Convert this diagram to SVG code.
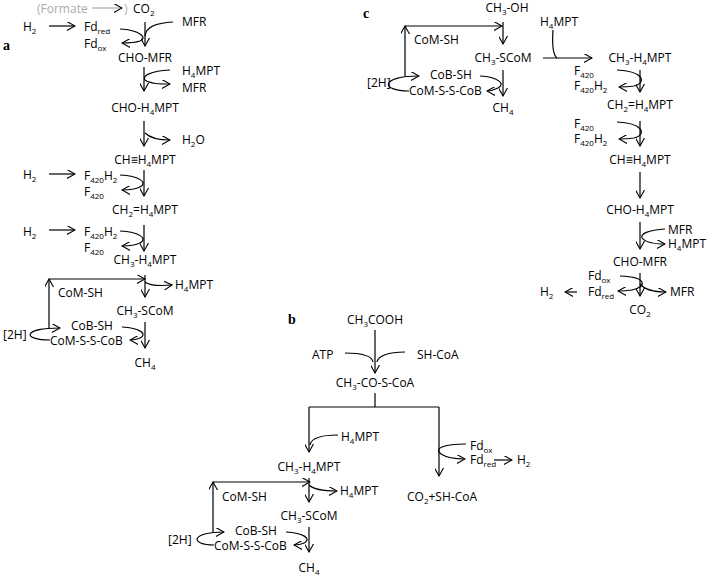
<svg xmlns="http://www.w3.org/2000/svg" width="710" height="577" viewBox="0 0 710 577">
<defs>
<marker id="ah" viewBox="0 0 10 10" refX="9" refY="5" markerWidth="9" markerHeight="9" markerUnits="userSpaceOnUse" orient="auto"><path d="M0,0 L9,5 L0,10" fill="none" stroke="#000" stroke-width="1.3"/></marker>
<marker id="ahg" viewBox="0 0 10 10" refX="9" refY="5" markerWidth="9" markerHeight="9" markerUnits="userSpaceOnUse" orient="auto"><path d="M0,0 L9,5 L0,10" fill="none" stroke="#aaa" stroke-width="1.3"/></marker>
</defs>
<style>
text{font-family:"Open Sans","Liberation Sans",sans-serif;font-size:12px;fill:#000}
.c{text-anchor:middle}
.lbl{font-family:"Liberation Serif",serif;font-weight:bold;font-size:14px}
.s{font-size:8px}
.g{fill:#aaa}
path,line{fill:none;stroke:#000;stroke-width:1.2}
.a{marker-end:url(#ah)}
</style>
<rect width="710" height="577" fill="#fff"/>

<g id="panel-a">
<text class="lbl" x="3" y="50">a</text>
<g id="a-formate"><text class="g" x="37" y="13">(Formate</text><text class="g" x="124" y="13">)</text></g>
<text x="133" y="13">CO<tspan class="s" dy="3">2</tspan></text>
<text x="23" y="31">H<tspan class="s" dy="3">2</tspan></text>
<text x="84" y="31">Fd<tspan class="s" dy="3">red</tspan></text>
<text x="84" y="48">Fd<tspan class="s" dy="3">ox</tspan></text>
<text x="182" y="26">MFR</text>
<text class="c" x="145" y="62">CHO-MFR</text>
<text x="182" y="75">H<tspan class="s" dy="3">4</tspan><tspan dy="-3">MPT</tspan></text>
<text x="182" y="92">MFR</text>
<text class="c" x="145" y="112">CHO-H<tspan class="s" dy="3">4</tspan><tspan dy="-3">MPT</tspan></text>
<text x="182" y="144">H<tspan class="s" dy="3">2</tspan><tspan dy="-3">O</tspan></text>
<text class="c" x="145" y="164">CH≡H<tspan class="s" dy="3">4</tspan><tspan dy="-3">MPT</tspan></text>
<text x="23" y="179">H<tspan class="s" dy="3">2</tspan></text>
<text x="84" y="180">F<tspan class="s" dy="3">420</tspan><tspan dy="-3">H</tspan><tspan class="s" dy="3">2</tspan></text>
<text x="84" y="196">F<tspan class="s" dy="3">420</tspan></text>
<text class="c" x="145" y="214">CH<tspan class="s" dy="3">2</tspan><tspan dy="-3">=H</tspan><tspan class="s" dy="3">4</tspan><tspan dy="-3">MPT</tspan></text>
<text x="23" y="236">H<tspan class="s" dy="3">2</tspan></text>
<text x="84" y="236">F<tspan class="s" dy="3">420</tspan><tspan dy="-3">H</tspan><tspan class="s" dy="3">2</tspan></text>
<text x="84" y="252">F<tspan class="s" dy="3">420</tspan></text>
<text class="c" x="145" y="264">CH<tspan class="s" dy="3">3</tspan><tspan dy="-3">-H</tspan><tspan class="s" dy="3">4</tspan><tspan dy="-3">MPT</tspan></text>
<text x="58" y="297">CoM-SH</text>
<text x="175" y="289">H<tspan class="s" dy="3">4</tspan><tspan dy="-3">MPT</tspan></text>
<text class="c" x="145" y="315">CH<tspan class="s" dy="3">3</tspan><tspan dy="-3">-SCoM</tspan></text>
<text x="71" y="330">CoB-SH</text>
<text x="50" y="345">CoM-S-S-CoB</text>
<text x="3" y="339">[2H]</text>
<text class="c" x="145" y="367">CH<tspan class="s" dy="3">4</tspan></text>
</g>

<g id="panel-c">
<text class="lbl" x="363" y="18">c</text>
<text class="c" x="507" y="12">CH<tspan class="s" dy="3">3</tspan><tspan dy="-3">-OH</tspan></text>
<text x="414" y="44">CoM-SH</text>
<text class="c" x="503" y="62">CH<tspan class="s" dy="3">3</tspan><tspan dy="-3">-SCoM</tspan></text>
<text x="540" y="26">H<tspan class="s" dy="3">4</tspan><tspan dy="-3">MPT</tspan></text>
<text class="c" x="640" y="62">CH<tspan class="s" dy="3">3</tspan><tspan dy="-3">-H</tspan><tspan class="s" dy="3">4</tspan><tspan dy="-3">MPT</tspan></text>
<text x="430" y="79">CoB-SH</text>
<text x="409" y="95">CoM-S-S-CoB</text>
<text x="367" y="87">[2H]</text>
<text class="c" x="503" y="112">CH<tspan class="s" dy="3">4</tspan></text>
<text x="574" y="75">F<tspan class="s" dy="3">420</tspan></text>
<text x="574" y="90">F<tspan class="s" dy="3">420</tspan><tspan dy="-3">H</tspan><tspan class="s" dy="3">2</tspan></text>
<text class="c" x="640" y="109">CH<tspan class="s" dy="3">2</tspan><tspan dy="-3">=H</tspan><tspan class="s" dy="3">4</tspan><tspan dy="-3">MPT</tspan></text>
<text x="574" y="128">F<tspan class="s" dy="3">420</tspan></text>
<text x="574" y="143">F<tspan class="s" dy="3">420</tspan><tspan dy="-3">H</tspan><tspan class="s" dy="3">2</tspan></text>
<text class="c" x="640" y="164">CH≡H<tspan class="s" dy="3">4</tspan><tspan dy="-3">MPT</tspan></text>
<text class="c" x="640" y="214">CHO-H<tspan class="s" dy="3">4</tspan><tspan dy="-3">MPT</tspan></text>
<text x="668" y="234">MFR</text>
<text x="668" y="248">H<tspan class="s" dy="3">4</tspan><tspan dy="-3">MPT</tspan></text>
<text class="c" x="640" y="266">CHO-MFR</text>
<text x="588" y="280">Fd<tspan class="s" dy="3">ox</tspan></text>
<text x="588" y="296">Fd<tspan class="s" dy="3">red</tspan></text>
<text x="540" y="296">H<tspan class="s" dy="3">2</tspan></text>
<text x="670" y="296">MFR</text>
<text class="c" x="640" y="314">CO<tspan class="s" dy="3">2</tspan></text>
</g>

<g id="panel-b">
<text class="lbl" x="288" y="324">b</text>
<text class="c" x="375" y="324">CH<tspan class="s" dy="3">3</tspan><tspan dy="-3">COOH</tspan></text>
<text x="312" y="359">ATP</text>
<text x="417" y="359">SH-CoA</text>
<text class="c" x="375" y="387">CH<tspan class="s" dy="3">3</tspan><tspan dy="-3">-CO-S-CoA</tspan></text>
<text x="341" y="441">H<tspan class="s" dy="3">4</tspan><tspan dy="-3">MPT</tspan></text>
<text x="470" y="450">Fd<tspan class="s" dy="3">ox</tspan></text>
<text x="470" y="464">Fd<tspan class="s" dy="3">red</tspan></text>
<text x="517" y="464">H<tspan class="s" dy="3">2</tspan></text>
<text class="c" x="309" y="471">CH<tspan class="s" dy="3">3</tspan><tspan dy="-3">-H</tspan><tspan class="s" dy="3">4</tspan><tspan dy="-3">MPT</tspan></text>
<text class="c" x="442" y="501">CO<tspan class="s" dy="3">2</tspan><tspan dy="-3">+SH-CoA</tspan></text>
<text x="222" y="501">CoM-SH</text>
<text x="340" y="495">H<tspan class="s" dy="3">4</tspan><tspan dy="-3">MPT</tspan></text>
<text class="c" x="309" y="520">CH<tspan class="s" dy="3">3</tspan><tspan dy="-3">-SCoM</tspan></text>
<text x="235" y="535">CoB-SH</text>
<text x="214" y="550">CoM-S-S-CoB</text>
<text x="168" y="544">[2H]</text>
<text class="c" x="309" y="572">CH<tspan class="s" dy="3">4</tspan></text>
</g>

<g id="connectors">
<!-- a -->
<line x1="92" y1="8" x2="122" y2="8" style="stroke:#aaa;marker-end:url(#ahg)"/>
<line class="a" x1="49" y1="26" x2="75" y2="26"/>
<line class="a" x1="145" y1="22" x2="145" y2="46"/>
<path d="M173,22 C155,23 146,27 145,36"/>
<path class="a" d="M120,29 C140,30 148,38 140,41 C134,43 128,43 122,43"/>
<line class="a" x1="144" y1="67" x2="144" y2="91"/>
<path class="a" d="M170,70 C150,71 142,76 145,80 C150,84 160,84 170,84"/>
<line class="a" x1="144" y1="121" x2="144" y2="146"/>
<path class="a" d="M145,133 C150,138 160,140 170,140"/>
<line class="a" x1="49" y1="174" x2="75" y2="174"/>
<line class="a" x1="144" y1="170" x2="144" y2="196"/>
<path class="a" d="M120,175 C140,176 148,183 140,187 C134,190 128,190 122,190"/>
<line class="a" x1="49" y1="230" x2="75" y2="230"/>
<line class="a" x1="144" y1="225" x2="144" y2="251"/>
<path class="a" d="M120,231 C140,232 148,239 140,243 C134,246 128,246 122,246"/>
<line class="a" x1="49" y1="328" x2="49" y2="279"/>
<line class="a" x1="49" y1="279" x2="145" y2="279"/>
<line class="a" x1="145" y1="275" x2="145" y2="297"/>
<path class="a" d="M145,282 C150,286 160,286 172,285"/>
<line class="a" x1="145" y1="322" x2="145" y2="348"/>
<path class="a" d="M122,327 C140,328 148,334 140,338 C136,340 134,340 130,340"/>
<path class="a" d="M50,340 C22,340 22,328 60,328"/>
<!-- c -->
<line class="a" x1="405" y1="76" x2="405" y2="26"/>
<line class="a" x1="405" y1="26" x2="502" y2="26"/>
<line class="a" x1="503" y1="22" x2="503" y2="44"/>
<line class="a" x1="543" y1="58" x2="592" y2="58"/>
<path d="M553,30 C552,45 553,55 557,58"/>
<line class="a" x1="503" y1="70" x2="503" y2="96"/>
<path class="a" d="M480,76 C498,77 506,84 498,88 C494,90 490,91 487,91"/>
<path class="a" d="M409,91 C380,91 380,76 419,76"/>
<line class="a" x1="640" y1="70" x2="640" y2="92"/>
<path class="a" d="M617,70 C642,71 648,82 634,86 C628,87 624,87 619,87"/>
<line class="a" x1="640" y1="121" x2="640" y2="146"/>
<path class="a" d="M617,122 C642,123 648,134 634,138 C628,139 624,139 619,139"/>
<line class="a" x1="640" y1="172" x2="640" y2="198"/>
<line class="a" x1="640" y1="222" x2="640" y2="249"/>
<path class="a" d="M665,229 C648,230 640,234 642,238 C646,243 655,244 665,244"/>
<line class="a" x1="640" y1="273" x2="640" y2="296"/>
<path class="a" d="M620,276 C650,277 645,288 632,290 C626,291 622,291 618,291"/>
<path class="a" d="M640,284 C645,290 655,292 666,292"/>
<line class="a" x1="577" y1="292" x2="565" y2="292"/>
<!-- b -->
<line class="a" x1="375" y1="330" x2="375" y2="373"/>
<path d="M345,353 C362,353 372,356 373,362"/>
<path d="M405,352 C388,352 378,356 377,362"/>
<path d="M375,393 L375,407 M309,407 L439,407"/>
<line class="a" x1="309" y1="407" x2="309" y2="452"/>
<line class="a" x1="439" y1="407" x2="439" y2="476"/>
<path d="M338,435 C320,435 311,439 310,445"/>
<path class="a" d="M466,444 C445,444 433,448 441,454 C447,458 455,459 465,459"/>
<line class="a" x1="494" y1="460" x2="512" y2="460"/>
<line class="a" x1="213" y1="532" x2="213" y2="482"/>
<line class="a" x1="213" y1="482" x2="310" y2="482"/>
<line class="a" x1="309" y1="478" x2="309" y2="502"/>
<path class="a" d="M309,485 C314,490 325,491 337,491"/>
<line class="a" x1="309" y1="527" x2="309" y2="552"/>
<path class="a" d="M286,532 C304,533 312,539 304,543 C300,545 298,545 294,545"/>
<path class="a" d="M214,545 C190,545 190,532 224,532"/>
</g>
</svg>
